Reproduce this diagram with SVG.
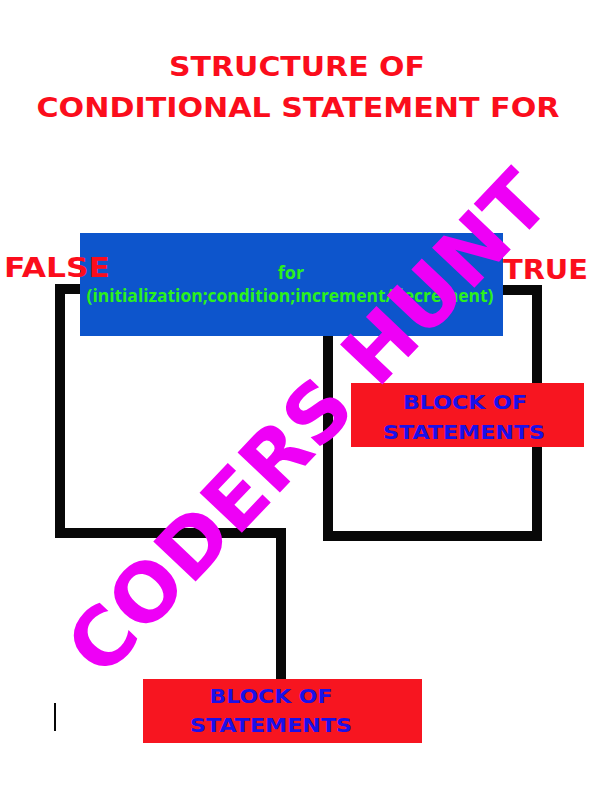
<svg xmlns="http://www.w3.org/2000/svg" width="600" height="800" viewBox="0 0 600 800">
<style>
.title{font-family:"DejaVu Sans","Liberation Sans",sans-serif;font-weight:bold;fill:#fb0d1c;}
.lbl{font-family:"DejaVu Sans","Liberation Sans",sans-serif;font-weight:bold;fill:#fb0d1c;font-size:26px;}
.blk{font-family:"DejaVu Sans","Liberation Sans",sans-serif;font-weight:bold;fill:#1a10e8;font-size:19px;}
.code{font-family:"Open Sans","Noto Sans",sans-serif;font-weight:bold;fill:#2cf01c;}
.wire{fill:none;stroke:#080808;stroke-width:10;stroke-linejoin:miter;stroke-linecap:butt;}
.redbox{fill:#f71520;}
.wm{font-family:"DejaVu Sans","Liberation Sans",sans-serif;font-weight:bold;fill:#ee00f6;}
</style>
<rect width="600" height="800" fill="#ffffff"/>
<g id="title">
<text class="title" x="297" y="76" font-size="27" text-anchor="middle" textLength="256" lengthAdjust="spacingAndGlyphs">STRUCTURE OF</text>
<text class="title" x="298" y="117" font-size="27" text-anchor="middle" textLength="523" lengthAdjust="spacingAndGlyphs">CONDITIONAL STATEMENT FOR</text>
</g>
<g id="connectors">
<path class="wire" d="M85,289 H60 V533 H281 V680"/>
<path class="wire" d="M500,290 H537 V536 H328 V336"/>
<line x1="55" y1="703" x2="55" y2="731" stroke="#080808" stroke-width="2"/>
</g>
<g id="for-node">
<rect x="80" y="233" width="423" height="103" fill="#0d55cc"/>
<text class="code" x="291" y="279" font-size="18" text-anchor="middle">for</text>
<text class="code" x="290" y="302" font-size="18" text-anchor="middle" textLength="407" lengthAdjust="spacingAndGlyphs">(initialization;condition;increment/decrement)</text>
</g>
<g id="false-label">
<text class="lbl" x="4" y="277" textLength="106" lengthAdjust="spacingAndGlyphs">FALSE</text>
</g>
<g id="true-label">
<text class="lbl" x="503" y="279" textLength="85" lengthAdjust="spacingAndGlyphs">TRUE</text>
</g>
<g id="true-block">
<rect class="redbox" x="351" y="383" width="233" height="64"/>
<text class="blk" x="465" y="409" text-anchor="middle" textLength="124" lengthAdjust="spacingAndGlyphs">BLOCK OF</text>
<text class="blk" x="464" y="439" text-anchor="middle" textLength="162" lengthAdjust="spacingAndGlyphs">STATEMENTS</text>
</g>
<g id="false-block">
<rect class="redbox" x="143" y="679" width="279" height="64"/>
<text class="blk" x="271" y="703" text-anchor="middle" textLength="123" lengthAdjust="spacingAndGlyphs">BLOCK OF</text>
<text class="blk" x="271" y="732" text-anchor="middle" textLength="162" lengthAdjust="spacingAndGlyphs">STATEMENTS</text>
</g>
<g id="watermark">
<text class="wm" x="0" y="0" font-size="80" text-anchor="middle" textLength="656" lengthAdjust="spacingAndGlyphs" transform="translate(328,442) rotate(-46.5)">CODERS HUNT</text>
</g>
</svg>
